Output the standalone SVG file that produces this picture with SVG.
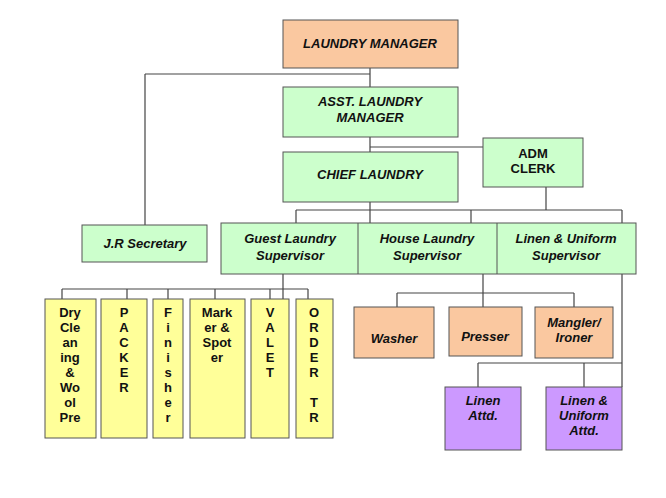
<svg xmlns="http://www.w3.org/2000/svg" width="666" height="498" viewBox="0 0 666 498">
<style>
.b{stroke:#555;stroke-width:1}
.o{fill:#FAC8A0}.g{fill:#CCFFCC}.y{fill:#FFFF99}.p{fill:#CC99FF}
text{font-family:"Liberation Sans",Arial,sans-serif;font-weight:bold;font-size:13px;fill:#111;text-anchor:middle}
.i{font-style:italic}
.c line{stroke:#444;stroke-width:1.2}
</style>
<rect width="666" height="498" fill="#fff"/>
<g class="c">
<line x1="370" y1="68" x2="370" y2="87"/><line x1="145" y1="74" x2="370" y2="74"/><line x1="145" y1="74" x2="145" y2="225"/>
<line x1="370" y1="137" x2="370" y2="152"/><line x1="370" y1="147" x2="483" y2="147"/>
<line x1="546" y1="187" x2="546" y2="210"/><line x1="296" y1="210" x2="622" y2="210"/>
<line x1="296" y1="210" x2="296" y2="223"/><line x1="370" y1="202" x2="370" y2="223"/><line x1="471" y1="210" x2="471" y2="223"/><line x1="622" y1="210" x2="622" y2="223"/>
<line x1="283" y1="274" x2="283" y2="299"/><line x1="62" y1="289" x2="308" y2="289"/>
<line x1="62" y1="289" x2="62" y2="299"/><line x1="127" y1="289" x2="127" y2="299"/><line x1="168" y1="289" x2="168" y2="299"/><line x1="215" y1="289" x2="215" y2="299"/><line x1="270" y1="289" x2="270" y2="299"/><line x1="308" y1="289" x2="308" y2="299"/>
<line x1="483" y1="274" x2="483" y2="307"/><line x1="397" y1="293" x2="574" y2="293"/><line x1="397" y1="293" x2="397" y2="307"/><line x1="574" y1="293" x2="574" y2="307"/>
<line x1="622" y1="274" x2="622" y2="387"/><line x1="478" y1="363" x2="622" y2="363"/><line x1="478" y1="363" x2="478" y2="387"/><line x1="584" y1="363" x2="584" y2="387"/>
</g>
<g id="manager"><rect class="b o" x="283" y="20" width="175" height="48"/><text class="i" x="370" y="48">LAUNDRY MANAGER</text></g>
<g id="asst"><rect class="b g" x="283" y="87" width="175" height="50"/><text class="i" x="370" y="106">ASST. LAUNDRY</text><text class="i" x="370" y="122">MANAGER</text></g>
<g id="chief"><rect class="b g" x="283" y="152" width="175" height="50"/><text class="i" x="370" y="179">CHIEF LAUNDRY</text></g>
<g id="adm"><rect class="b g" x="483" y="138" width="100" height="49"/><text x="533" y="158">ADM</text><text x="533" y="173">CLERK</text></g>
<g id="jr"><rect class="b g" x="82" y="225" width="125" height="37"/><text class="i" x="145" y="248">J.R Secretary</text></g>
<g id="sup"><rect class="b g" x="221" y="223" width="415" height="51"/><line class="b" x1="358" y1="223" x2="358" y2="274"/><line class="b" x1="497" y1="223" x2="497" y2="274"/>
<text class="i" x="290" y="243">Guest Laundry</text><text class="i" x="290" y="260">Supervisor</text>
<text class="i" x="427" y="243">House Laundry</text><text class="i" x="427" y="260">Supervisor</text>
<text class="i" x="566" y="243">Linen &amp; Uniform</text><text class="i" x="566" y="260">Supervisor</text></g>
<g id="dry"><rect class="b y" x="45" y="299" width="51" height="139"/><text x="70" y="317">Dry</text><text x="70" y="332">Cle</text><text x="70" y="347">an</text><text x="70" y="362">ing</text><text x="70" y="377">&amp;</text><text x="70" y="392">Wo</text><text x="70" y="407">ol</text><text x="70" y="422">Pre</text></g>
<g id="packer"><rect class="b y" x="101" y="299" width="46" height="139"/><text x="124" y="317">P</text><text x="124" y="332">A</text><text x="124" y="347">C</text><text x="124" y="362">K</text><text x="124" y="377">E</text><text x="124" y="392">R</text></g>
<g id="finisher"><rect class="b y" x="153" y="299" width="30" height="139"/><text x="168" y="317">F</text><text x="168" y="332">i</text><text x="168" y="347">n</text><text x="168" y="362">i</text><text x="168" y="377">s</text><text x="168" y="392">h</text><text x="168" y="407">e</text><text x="168" y="422">r</text></g>
<g id="marker"><rect class="b y" x="190" y="299" width="55" height="139"/><text x="217" y="317">Mark</text><text x="217" y="332">er &amp;</text><text x="217" y="347">Spot</text><text x="217" y="362">er</text></g>
<g id="valet"><rect class="b y" x="251" y="299" width="38" height="139"/><text x="270" y="317">V</text><text x="270" y="332">A</text><text x="270" y="347">L</text><text x="270" y="362">E</text><text x="270" y="377">T</text></g>
<g id="order"><rect class="b y" x="296" y="299" width="37" height="139"/><text x="314" y="317">O</text><text x="314" y="332">R</text><text x="314" y="347">D</text><text x="314" y="362">E</text><text x="314" y="377">R</text><text x="314" y="407">T</text><text x="314" y="422">R</text></g>
<g id="washer"><rect class="b o" x="354" y="307" width="80" height="51"/><text class="i" x="394" y="343">Washer</text></g>
<g id="presser"><rect class="b o" x="449" y="307" width="73" height="49"/><text class="i" x="485" y="341" font-size="12">Presser</text></g>
<g id="mangler"><rect class="b o" x="535" y="307" width="78" height="51"/><text class="i" x="574" y="327" font-size="12">Mangler/</text><text class="i" x="574" y="342" font-size="12">Ironer</text></g>
<g id="linen"><rect class="b p" x="445" y="387" width="76" height="63"/><text class="i" x="483" y="405" font-size="12">Linen</text><text class="i" x="483" y="420" font-size="12">Attd.</text></g>
<g id="linenu"><rect class="b p" x="546" y="387" width="76" height="63"/><text class="i" x="584" y="405" font-size="12">Linen &amp;</text><text class="i" x="584" y="420" font-size="12">Uniform</text><text class="i" x="584" y="435" font-size="12">Attd.</text></g>
</svg>
